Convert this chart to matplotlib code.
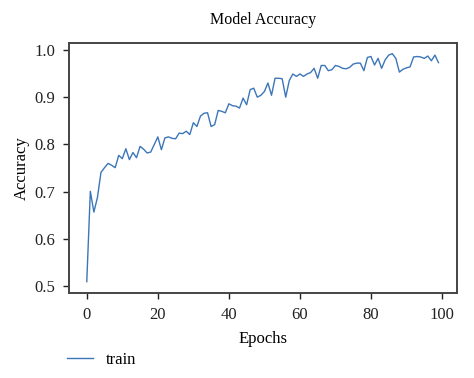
# model accuracy curve
import matplotlib
matplotlib.use('Agg')
import matplotlib.pyplot as plt
import numpy as np

# data
epochs = list(range(100))
train_acc = [0.510, 0.701, 0.657, 0.688, 0.741, 0.751, 0.760, 0.756, 0.751, 0.777,
             0.770, 0.791, 0.768, 0.783, 0.772, 0.796, 0.790, 0.782, 0.784, 0.800,
             0.816, 0.789, 0.814, 0.816, 0.813, 0.812, 0.824, 0.823, 0.828, 0.821,
             0.846, 0.838, 0.860, 0.866, 0.867, 0.838, 0.842, 0.872, 0.870, 0.867,
             0.886, 0.882, 0.881, 0.877, 0.898, 0.884, 0.916, 0.919, 0.900, 0.904,
             0.912, 0.930, 0.904, 0.940, 0.940, 0.939, 0.900, 0.935, 0.949, 0.944,
             0.949, 0.944, 0.949, 0.952, 0.961, 0.940, 0.967, 0.967, 0.956, 0.958,
             0.967, 0.965, 0.961, 0.960, 0.963, 0.970, 0.972, 0.972, 0.956, 0.984,
             0.986, 0.968, 0.982, 0.961, 0.979, 0.989, 0.992, 0.982, 0.953, 0.959,
             0.962, 0.964, 0.985, 0.986, 0.985, 0.982, 0.987, 0.977, 0.989, 0.973]
x_ticks = [0, 20, 40, 60, 80, 100]
y_ticks = [0.5, 0.6, 0.7, 0.8, 0.9, 1.0]

plt.rcParams['font.family'] = ['Liberation Serif', 'DejaVu Serif']

fig = plt.figure(figsize = (4.74, 3.78), dpi = 100)
ax = fig.add_axes([0.1456, 0.2249, 0.8184, 0.6613])

line, = ax.plot(epochs, train_acc, color = '#3b76b9', linewidth = 1.0, label = 'train')

ax.set_xticks(x_ticks)
ax.set_yticks(y_ticks)
ax.set_yticklabels(['{:.1f}'.format(v) for v in y_ticks])
ax.set_xlim(-5.0, 104.2)
ax.set_ylim(0.486, 1.0145)

for s in ax.spines.values():
    s.set_color('#444444')
    s.set_linewidth(1.4)
ax.tick_params(direction = 'out', length = 4, width = 1, colors = '#222222',
               labelsize = 12, pad = 6)

ax.set_title('Model Accuracy', fontsize = 11.5, pad = 14)
ax.set_xlabel('Epochs', fontsize = 12, labelpad = 6)
ax.set_ylabel('Accuracy', fontsize = 12, labelpad = 3)

fig.legend(handles = [line], loc = 'lower left', bbox_to_anchor = (0.11, -0.012),
           frameon = False, fontsize = 12, handlelength = 1.55, handletextpad = 0.8)

plt.savefig('out.png', dpi = 100)
plt.close()
